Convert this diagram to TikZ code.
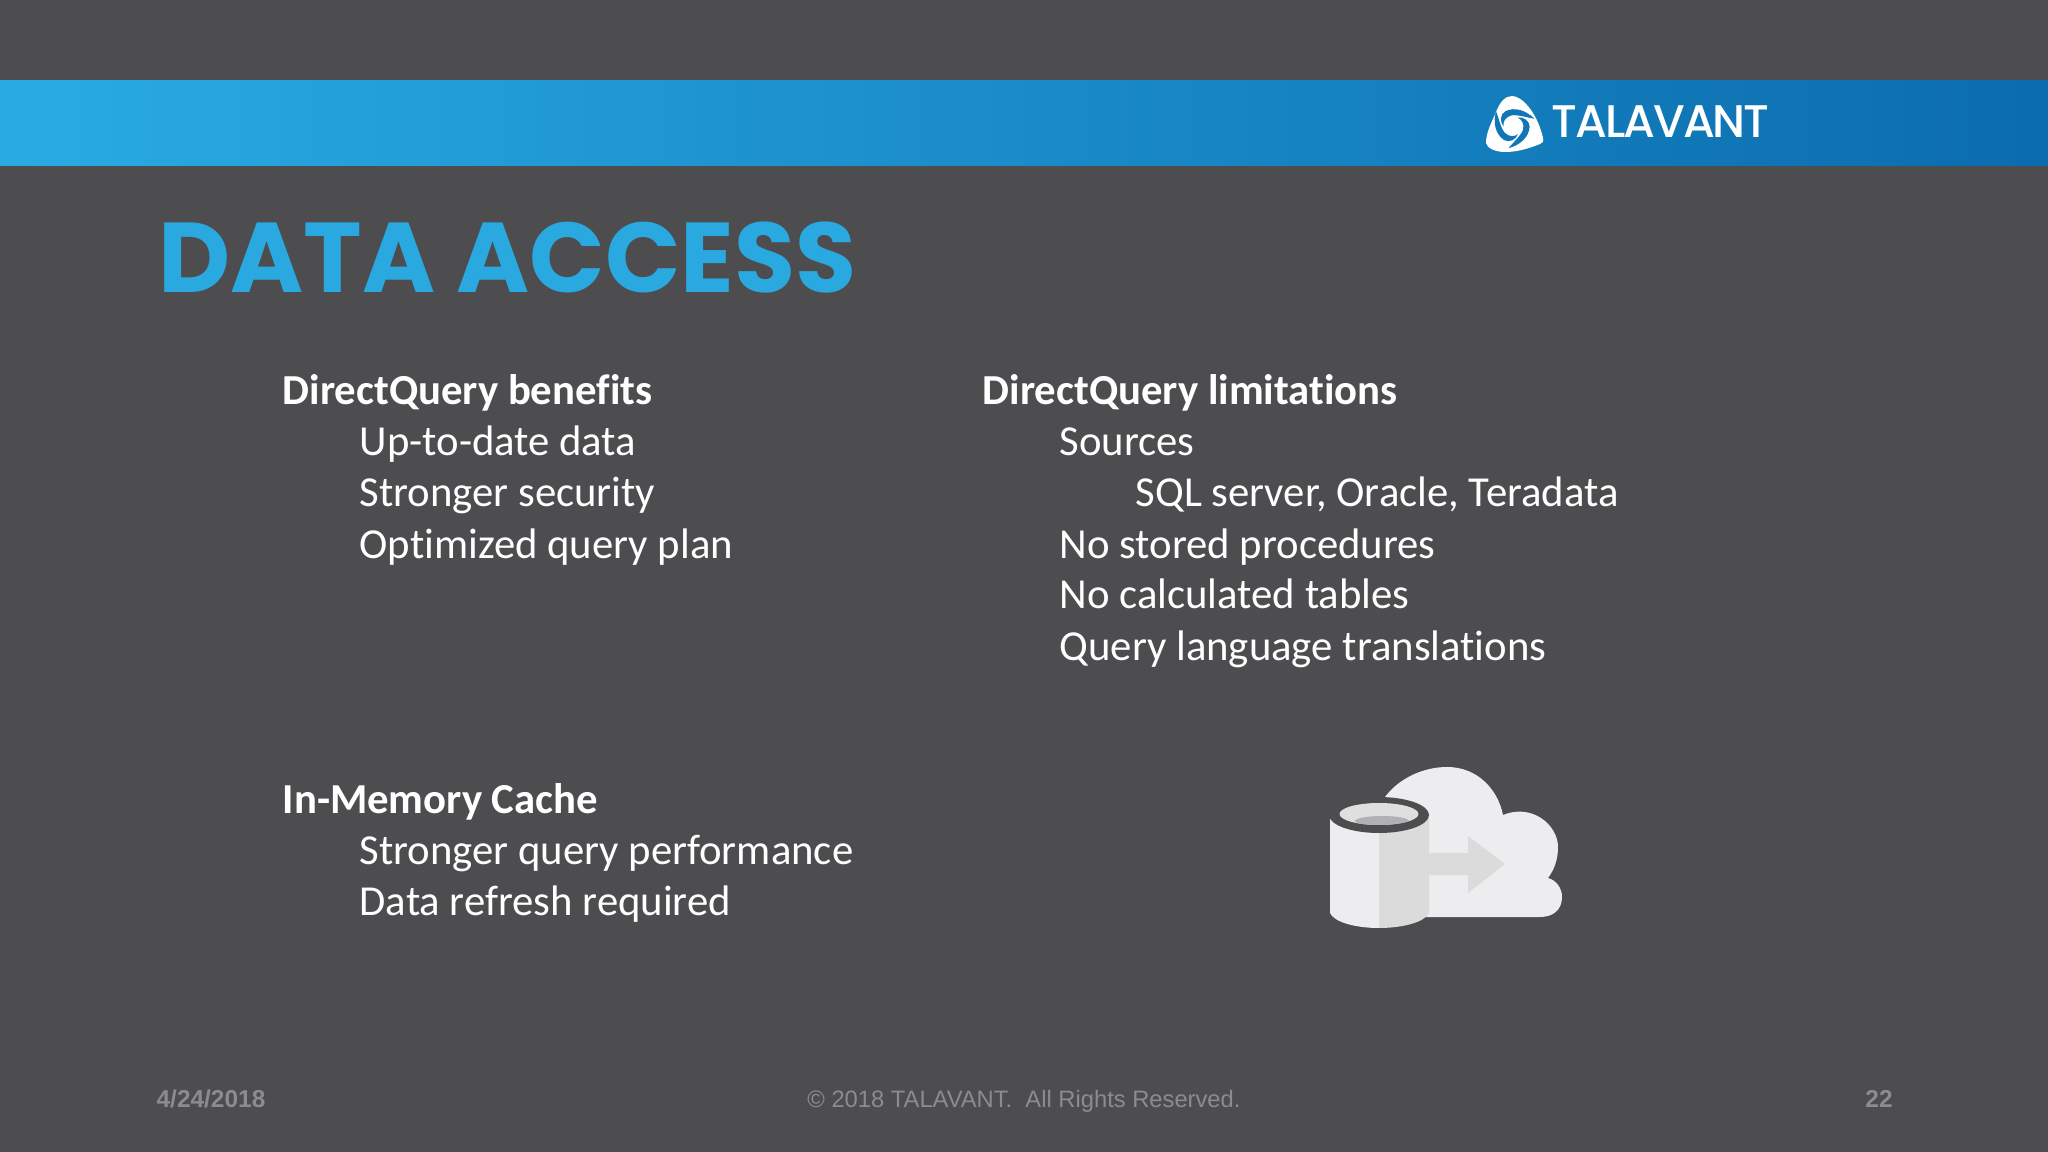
\documentclass[tikz,border=0pt]{standalone}
\usepackage{fontspec}
\setmainfont[Ligatures=NoCommon]{Carlito}
\newfontfamily\titlefont{Poppins}
\newfontfamily\brandfont[LetterSpace=-4.5]{Poppins Medium}
\newfontfamily\footfont{Liberation Sans}
\usetikzlibrary{positioning}
\definecolor{slidebg}{HTML}{4D4C4F}
\definecolor{bandleft}{HTML}{29ABE2}
\definecolor{bandright}{HTML}{0B6CAE}
\definecolor{titleblue}{HTML}{29A9E0}
\definecolor{footgray}{HTML}{8C8C8E}
\definecolor{iconlight}{HTML}{EDECEE}
\definecolor{iconmid}{HTML}{DCDBDC}
\tikzset{
  head/.style={anchor=base west,inner sep=0pt,text=white,font=\fontsize{12.15pt}{14pt}\selectfont\bfseries},
  line/.style={anchor=base west,inner sep=0pt,text=white,font=\fontsize{12.15pt}{14pt}\selectfont},
  foot/.style={inner sep=0pt,anchor=base,text=footgray,font=\fontsize{6.95pt}{8pt}\footfont}
}
\begin{document}
\begin{tikzpicture}[x=0.01cm,y=-0.01cm]
\useasboundingbox (0,0) rectangle (2048,1152);
\fill[slidebg] (0,0) rectangle (2048,1152);
\shade[left color=bandleft,right color=bandright] (0,81) rectangle (2048,166);
\node[anchor=base west,inner sep=0pt,text=titleblue,font=\fontsize{28.2pt}{30pt}\titlefont\bfseries] (title) at (158,293) {DATA ACCESS};
\node[head] (benefits) at (282,405) {DirectQuery benefits};
\node[line] (uptodate) at (359,456) {Up-to-date data};
\node[line] (security) at (359,507) {Stronger security};
\node[line] (plan) at (359,558) {Optimized query plan};
\node[head] (limits) at (982,405) {DirectQuery limitations};
\node[line] (sources) at (1059,456) {Sources};
\node[line] (sqlserver) at (1135,507) {SQL server, Oracle, Teradata};
\node[line] (stored) at (1059,558) {No stored procedures};
\node[line] (calculated) at (1059,609) {No calculated tables};
\node[line] (translate) at (1059,660) {Query language translations};
\node[head] (cache) at (282,813) {In-Memory Cache};
\node[line] (perf) at (359,864) {Stronger query performance};
\node[line] (refresh) at (359,915) {Data refresh required};
\node[foot] (date) at (211,1107) {\bfseries 4/24/2018};
\node[foot,font=\fontsize{6.75pt}{8pt}\footfont] (copy) at (1024,1107) {© 2018 TALAVANT.\ \ All Rights Reserved.};
\node[foot] (page) at (1879,1107) {\bfseries 22};
\node[anchor=base west,inner sep=0pt,text=white,font=\fontsize{13pt}{14pt}\brandfont] (brand) at (1551,138) {TALAVANT};
\fill[white] (1512,96) .. controls (1522,96) and (1536,112) .. (1542,134) .. controls (1545,144) and (1542,142) .. (1540,144) .. controls (1525,150) and (1515,152) .. (1505,152) .. controls (1495,152) and (1487,148) .. (1486,143) .. controls (1486,132) and (1492,122) .. (1496,112) .. controls (1500,102) and (1505,96) .. (1512,96) -- cycle;
\foreach \ang in {0,120,240}
  \fill[bandright!85!bandleft,shift={(1513,126)},rotate=\ang] (-17,-15) .. controls (-20,-4) and (-18,8) .. (-9,14) .. controls (-4,17) and (3,14) .. (5,8) .. controls (2,11) and (-4,11) .. (-8,7) .. controls (-12,3) and (-14,-7) .. (-17,-15) -- cycle;
\fill[iconlight] (1385,797) .. controls (1400,777) and (1425,767) .. (1447,767) .. controls (1478,767) and (1498,790) .. (1503,815) .. controls (1532,803) and (1558,825) .. (1558,847) .. controls (1558,860) and (1554,870) .. (1548,878) .. controls (1556,880) and (1562,888) .. (1562,897) .. controls (1562,910) and (1553,917) .. (1540,917) -- (1400,917) -- (1400,830) -- cycle;
\fill[iconmid] (1429,853) -- (1468,853) -- (1468,836) -- (1505,864) -- (1468,893) -- (1468,875) -- (1429,875) -- cycle;
\fill[iconlight] (1330,815) -- (1330,913) .. controls (1334,922) and (1355,928) .. (1379,928) -- (1379,815) -- cycle;
\fill[iconmid] (1379,815) -- (1379,928) .. controls (1403,928) and (1425,922) .. (1429,913) -- (1429,815) -- cycle;
\fill[slidebg] (1379,815) ellipse (50 and 18);
\fill[iconmid!90!white] (1379,814) ellipse (39.5 and 11);
\begin{scope}
\clip (1379,814) ellipse (39.5 and 11);
\fill[iconmid!70!slidebg] (1382,821) ellipse (27 and 5);
\end{scope}
\end{tikzpicture}
\end{document}
